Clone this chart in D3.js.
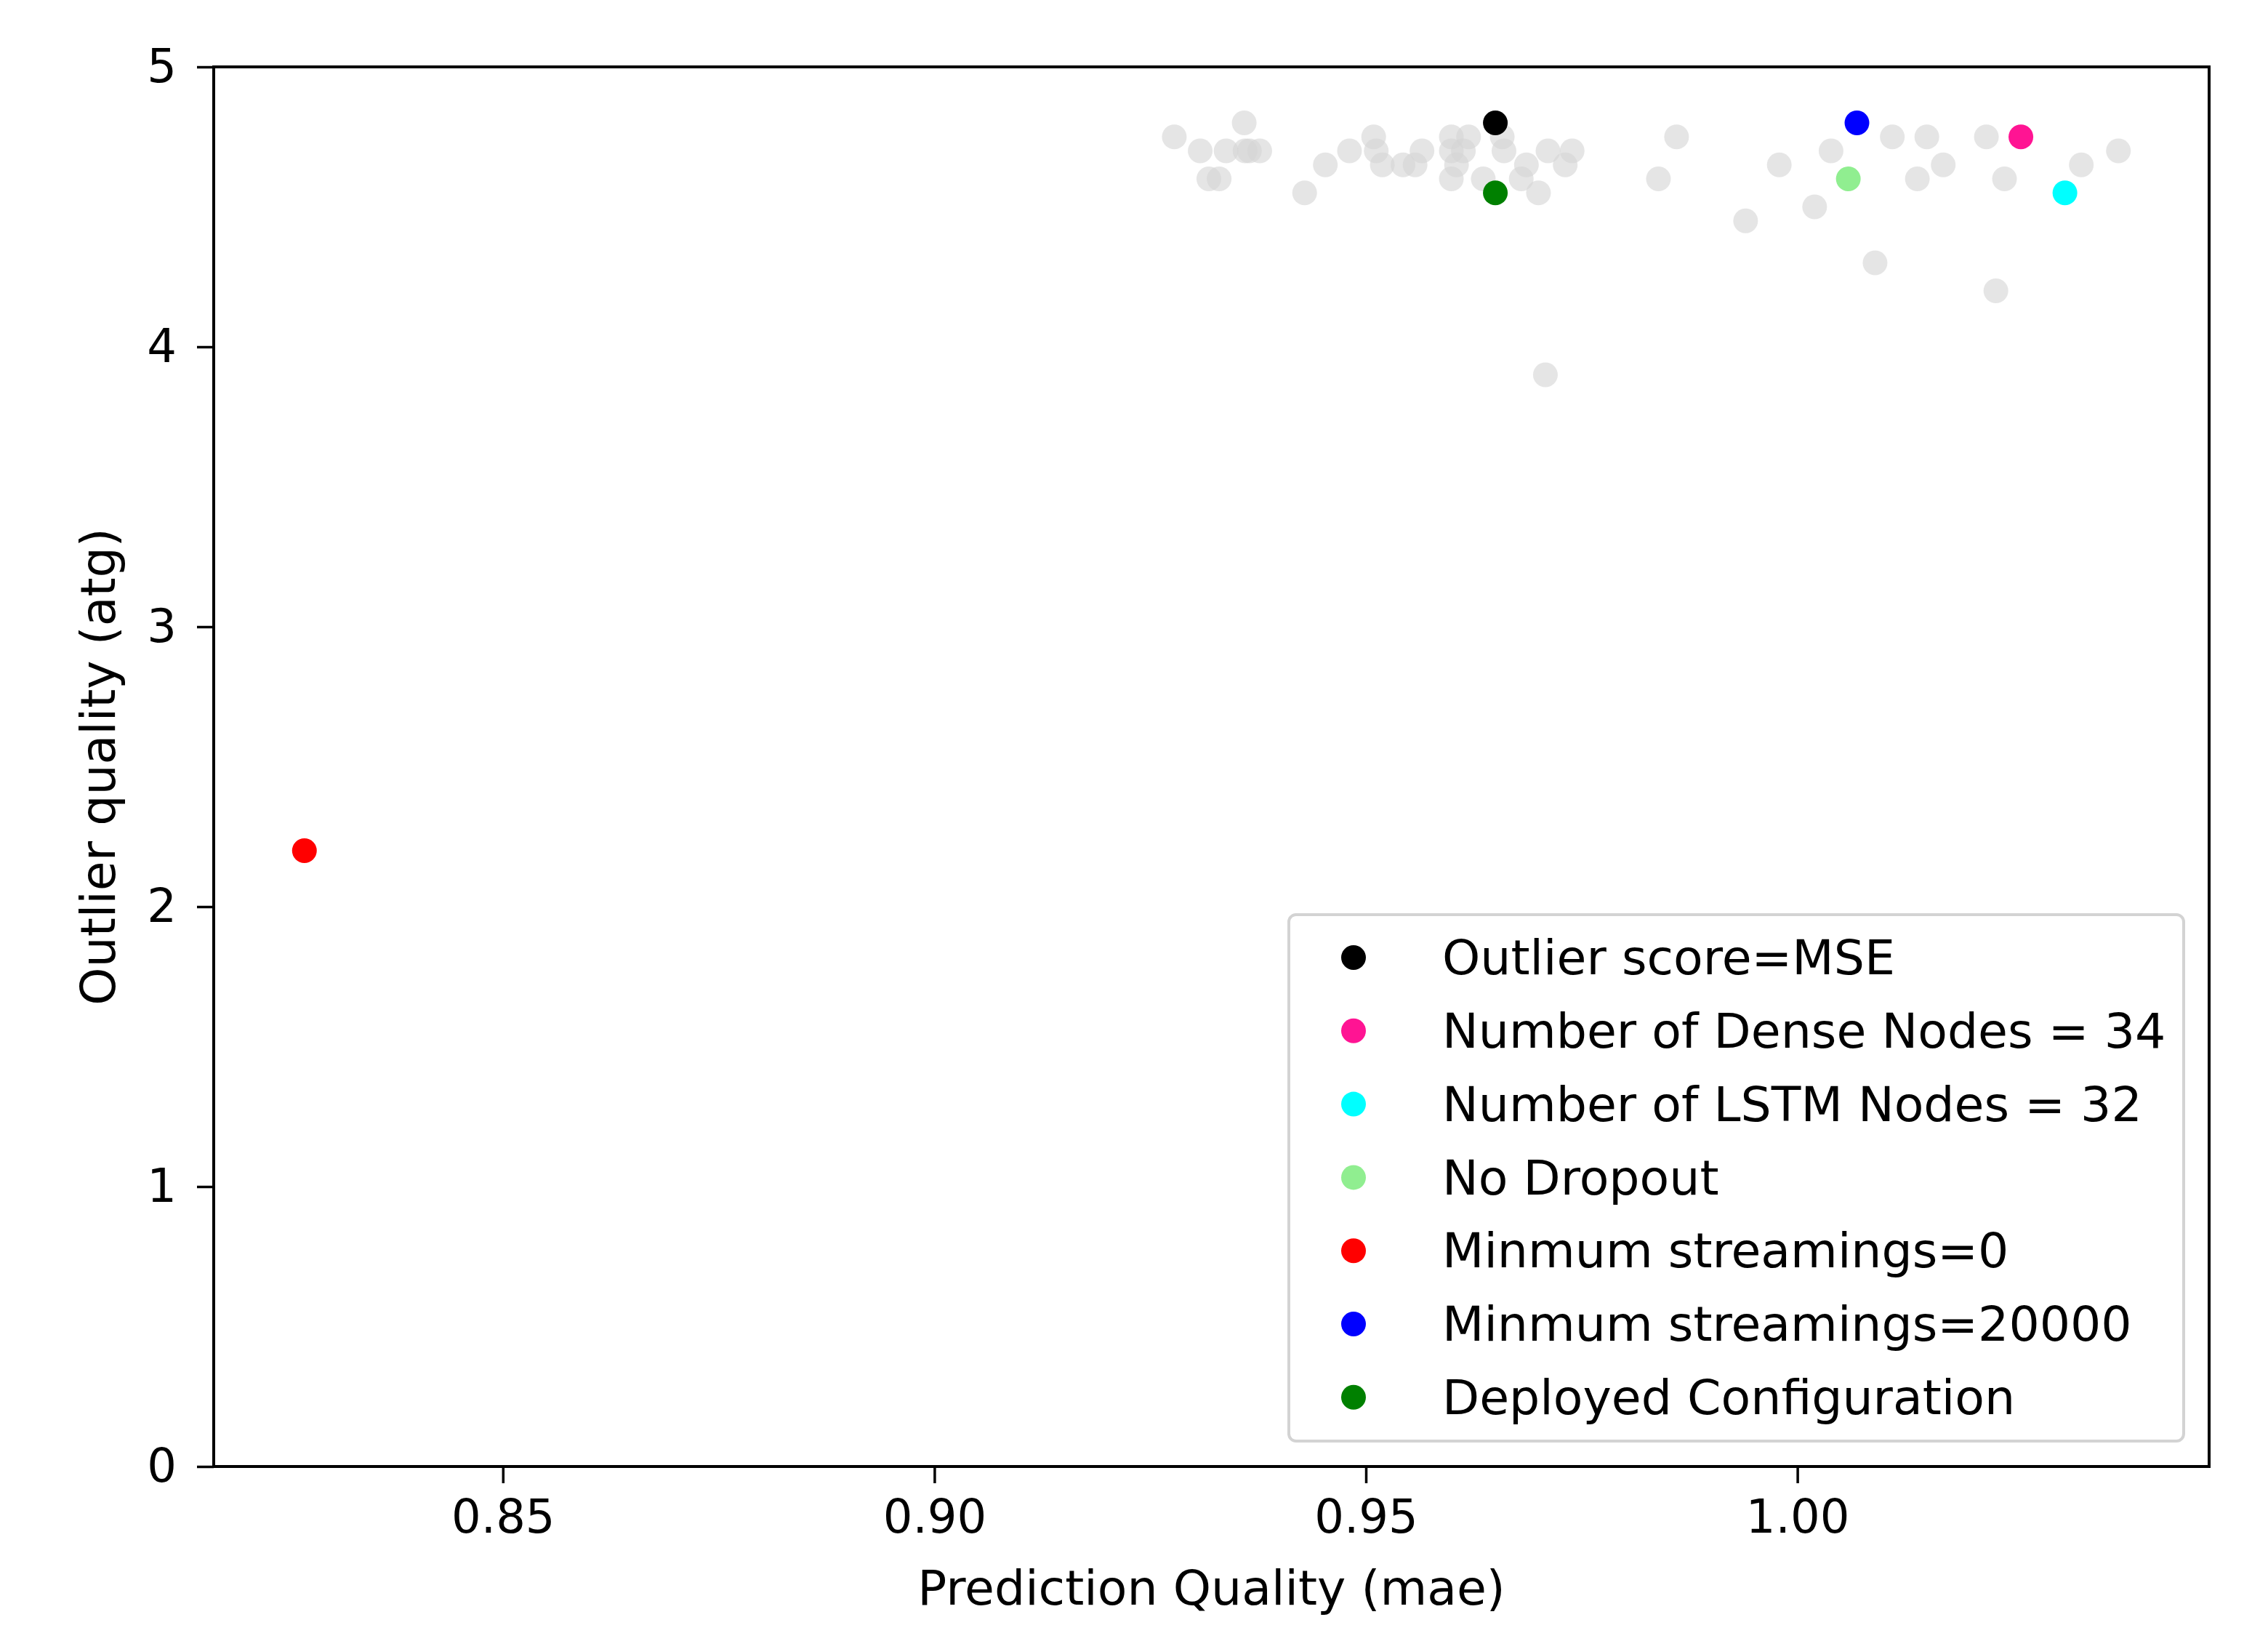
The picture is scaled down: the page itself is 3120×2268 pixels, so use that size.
<!DOCTYPE html>
<html>
<head>
<meta charset="utf-8">
<script src="https://cdn.jsdelivr.net/npm/d3@7"></script>
<style>
  body { margin: 0; background: #fff; }
  svg { display: block; }
</style>
</head>
<body>
<svg width="3120" height="2268"></svg>
<script>
// all other configurations tried (grey cloud)
const greyX = [0.9278, 0.9359, 0.9308, 0.9318, 0.9330, 0.9338, 0.9360, 0.9377, 0.9365, 0.9429,
  0.9453, 0.9481, 0.9509, 0.9512, 0.9519, 0.9543, 0.9557, 0.9565, 0.9599, 0.9619,
  0.9599, 0.9613, 0.9599, 0.9605, 0.9636, 0.9658, 0.9660, 0.9686, 0.9680, 0.9700,
  0.9711, 0.9739, 0.9731, 0.9708, 0.9860, 0.9839, 0.9979, 1.0039, 1.0110, 1.0150,
  1.0219, 1.0139, 1.0169, 1.0240, 1.0329, 1.0372, 1.0020, 0.9940, 1.0090, 1.0230];
const greyY = [4.75, 4.8, 4.7, 4.6, 4.6, 4.7, 4.7, 4.7, 4.7, 4.55,
  4.65, 4.7, 4.75, 4.7, 4.65, 4.65, 4.65, 4.7, 4.75, 4.75,
  4.7, 4.7, 4.6, 4.65, 4.6, 4.75, 4.7, 4.65, 4.6, 4.55,
  4.7, 4.7, 4.65, 3.9, 4.75, 4.6, 4.65, 4.7, 4.75, 4.75,
  4.75, 4.6, 4.65, 4.6, 4.65, 4.7, 4.5, 4.45, 4.3, 4.2];

// highlighted configurations
const labels = ["Outlier score=MSE", "Number of Dense Nodes = 34", "Number of LSTM Nodes = 32",
  "No Dropout", "Minmum streamings=0", "Minmum streamings=20000", "Deployed Configuration"];
const highX = [0.9650, 1.0259, 1.0310, 1.0059, 0.8270, 1.0069, 0.9650];
const highY = [4.8, 4.75, 4.55, 4.6, 2.2, 4.8, 4.55];
const colors = ["black", "deeppink", "cyan", "lightgreen", "red", "blue", "green"];

const xTicks = [0.85, 0.90, 0.95, 1.00];
const yTicks = [0, 1, 2, 3, 4, 5];

const svg = d3.select("svg");
const font = "DejaVu Sans";
const plotL = 294, plotR = 3039, plotT = 92, plotB = 2017;

// matplotlib style 5% margin on x
const allX = greyX.concat(highX);
const [xmin, xmax] = d3.extent(allX);
const pad = (xmax - xmin) * 0.05;
const x = d3.scaleLinear().domain([xmin - pad, xmax + pad]).range([plotL, plotR]);
const y = d3.scaleLinear().domain([0, 5]).range([plotB, plotT]);

const r = 17;

// grey points
svg.append("g").selectAll("circle")
  .data(greyX.map((d, i) => [d, greyY[i]]))
  .join("circle")
  .attr("cx", d => x(d[0]))
  .attr("cy", d => y(d[1]))
  .attr("r", r)
  .attr("fill", "lightgrey")
  .attr("fill-opacity", 0.6);

// coloured points on top
svg.append("g").selectAll("circle")
  .data(labels.map((l, i) => ({ x: highX[i], y: highY[i], c: colors[i] })))
  .join("circle")
  .attr("cx", d => x(d.x))
  .attr("cy", d => y(d.y))
  .attr("r", r)
  .attr("fill", d => d.c);

// axes
const xAxis = svg.append("g")
  .attr("transform", `translate(0,${plotB})`)
  .call(d3.axisBottom(x).tickValues(xTicks).tickFormat(d3.format(".2f")).tickSize(23).tickPadding(23).tickSizeOuter(0));
const yAxis = svg.append("g")
  .attr("transform", `translate(${plotL},0)`)
  .call(d3.axisLeft(y).tickValues(yTicks).tickFormat(d3.format("d")).tickSize(23).tickPadding(28).tickSizeOuter(0));

[xAxis, yAxis].forEach(a => {
  a.select(".domain").remove();
  a.selectAll(".tick line").attr("stroke", "black").attr("stroke-width", 3.5);
  a.selectAll(".tick text").attr("font-family", font).attr("font-size", 64).attr("fill", "black");
});

// frame
svg.append("rect")
  .attr("x", plotL).attr("y", plotT)
  .attr("width", plotR - plotL).attr("height", plotB - plotT)
  .attr("fill", "none").attr("stroke", "black").attr("stroke-width", 4);

// axis labels
svg.append("text")
  .attr("x", (plotL + plotR) / 2).attr("y", 2207)
  .attr("text-anchor", "middle")
  .attr("font-family", font).attr("font-size", 66.5)
  .text("Prediction Quality (mae)");

svg.append("text")
  .attr("transform", `translate(158,${(plotT + plotB) / 2}) rotate(-90)`)
  .attr("text-anchor", "middle")
  .attr("font-family", font).attr("font-size", 66.5)
  .text("Outlier quality (atg)");

// legend
const lg = svg.append("g");
lg.append("rect")
  .attr("x", 1773).attr("y", 1258)
  .attr("width", 1231).attr("height", 724)
  .attr("rx", 10)
  .attr("fill", "white").attr("fill-opacity", 0.8)
  .attr("stroke", "#d3d3d3").attr("stroke-width", 4);

const row = lg.selectAll("g.item")
  .data(labels)
  .join("g")
  .attr("class", "item")
  .attr("transform", (d, i) => `translate(0,${1317 + i * 100.8})`);
row.append("circle")
  .attr("cx", 1862).attr("cy", 0).attr("r", r)
  .attr("fill", (d, i) => colors[i]);
row.append("text")
  .attr("x", 1984).attr("y", 0).attr("dy", "0.35em")
  .attr("font-family", font).attr("font-size", 66.5)
  .text(d => d);
</script>
</body>
</html>
